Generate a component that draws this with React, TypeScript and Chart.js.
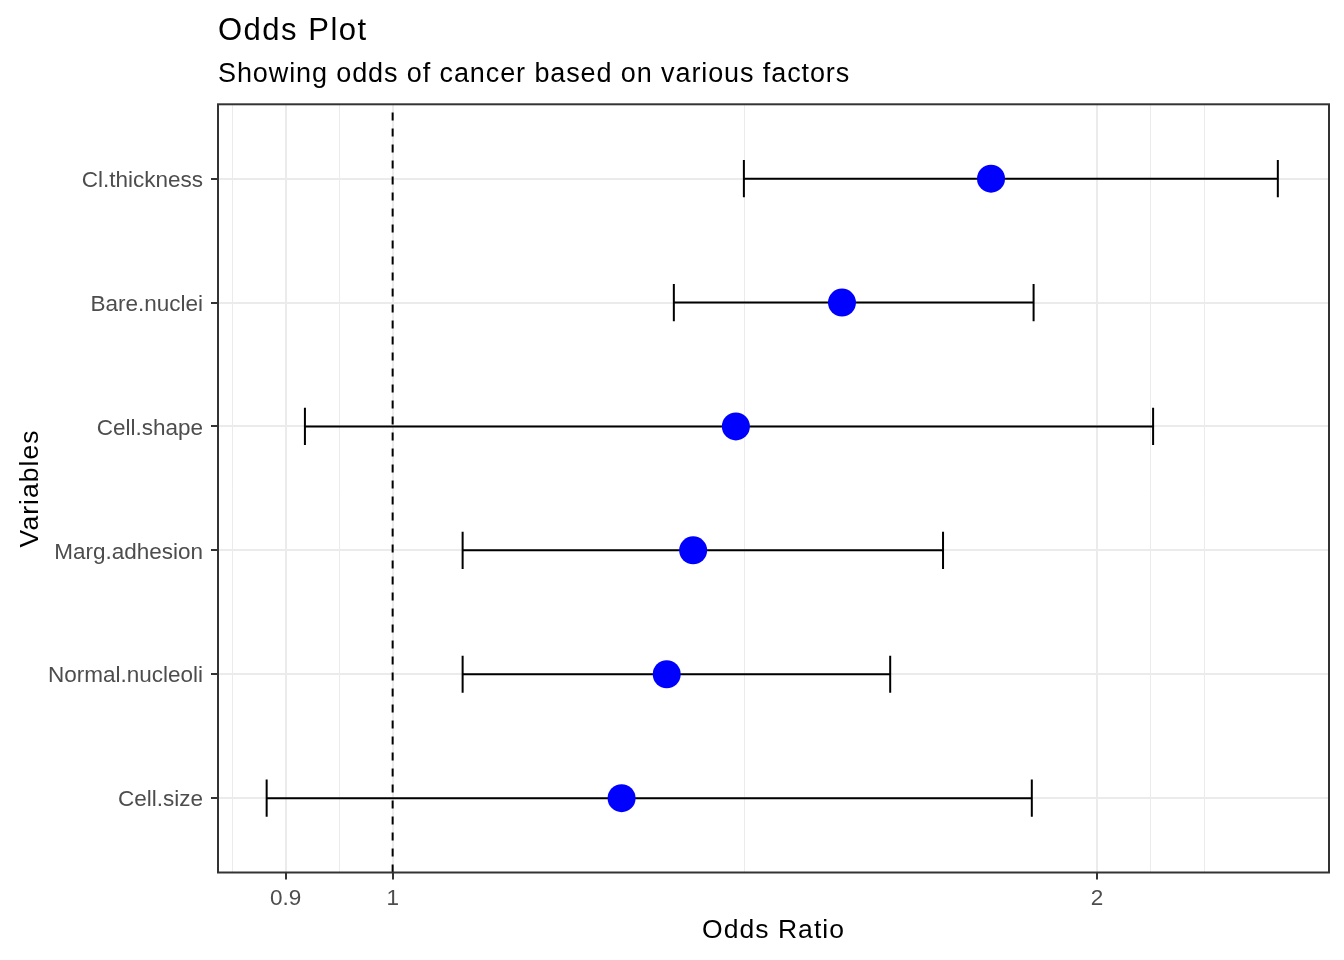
import React, { useEffect, useRef } from "react";
import { Chart, registerables } from "chart.js";

Chart.register(...registerables);

// ---- data (bottom to top, as ggplot draws the discrete axis) ----
const categories = [
  "Cell.size",
  "Normal.nucleoli",
  "Marg.adhesion",
  "Cell.shape",
  "Bare.nuclei",
  "Cl.thickness",
];
const oddsRatio = [1.2527, 1.3096, 1.3441, 1.4018, 1.5561, 1.8019];
const lowerCI = [0.8834, 1.0713, 1.0713, 0.9173, 1.3188, 1.4129];
const upperCI = [1.8757, 1.6317, 1.7188, 2.1135, 1.879, 2.3895];

const majorTicks = [0.9, 1, 2];
const minorTicks = [0.8538, 0.9487, 1.4142, 2.108, 2.2222];
const xLimits = [0.8421, 2.5129];
const refLine = 1;

const titleText = "Odds Plot";
const subtitleText = "Showing odds of cancer based on various factors";
const xTitleText = "Odds Ratio";
const yTitleText = "Variables";

// ---- style ----
const FONT = "'Liberation Sans', Arial, sans-serif";
const GRID = "#EBEBEB";
const DARK = "#333333";
const TICK_TEXT = "#4D4D4D";
const CAP_HALF = 0.15;
const Y_EXPAND = 0.6;

const isMajor = (v: number) => majorTicks.includes(v);

const errorBarPlugin = {
  id: "errorBars",
  beforeDatasetDraw(chart: any, args: any) {
    if (args.index !== 0) return;
    const { ctx, scales } = chart;
    const x = scales.x;
    const y = scales.y;
    ctx.save();
    ctx.strokeStyle = "#000000";
    ctx.lineWidth = 2;
    ctx.lineCap = "butt";
    categories.forEach((_, i) => {
      const py = y.getPixelForValue(i);
      const h = Math.abs(y.getPixelForValue(i + CAP_HALF) - py);
      const x1 = x.getPixelForValue(lowerCI[i]);
      const x2 = x.getPixelForValue(upperCI[i]);
      ctx.beginPath();
      ctx.moveTo(x1, py);
      ctx.lineTo(x2, py);
      ctx.moveTo(x1, py - h);
      ctx.lineTo(x1, py + h);
      ctx.moveTo(x2, py - h);
      ctx.lineTo(x2, py + h);
      ctx.stroke();
    });
    ctx.restore();
  },
};

const borderPlugin = {
  id: "panelBorder",
  afterDatasetsDraw(chart: any) {
    const { ctx, chartArea } = chart;
    ctx.save();
    ctx.strokeStyle = DARK;
    ctx.lineWidth = 2;
    ctx.strokeRect(
      chartArea.left,
      chartArea.top,
      chartArea.right - chartArea.left,
      chartArea.bottom - chartArea.top
    );
    ctx.restore();
  },
};

const textPlugin = {
  id: "texts",
  afterDraw(chart: any) {
    const { ctx, chartArea } = chart;
    const draw = (
      text: string,
      x: number,
      y: number,
      size: number,
      ls: number,
      align: CanvasTextAlign,
      rot = 0
    ) => {
      ctx.save();
      ctx.translate(x, y);
      if (rot) ctx.rotate(rot);
      ctx.font = `${size}px ${FONT}`;
      try {
        (ctx as any).letterSpacing = `${ls}px`;
      } catch (e) {}
      ctx.fillStyle = "#000000";
      ctx.textAlign = align;
      ctx.textBaseline = "alphabetic";
      ctx.fillText(text, 0, 0);
      ctx.restore();
    };
    const cx = (chartArea.left + chartArea.right) / 2;
    const cy = (chartArea.top + chartArea.bottom) / 2;
    draw(titleText, chartArea.left, 40, 31, 1.5, "left");
    draw(subtitleText, chartArea.left, 82, 27, 0.9, "left");
    draw(xTitleText, cx, 938, 26.5, 1.05, "center");
    draw(yTitleText, 38, cy, 26.5, 1.05, "center", -Math.PI / 2);
  },
};

export default function App() {
  const ref = useRef<HTMLCanvasElement | null>(null);

  useEffect(() => {
    document.body.style.margin = "0";
    const canvas = ref.current;
    if (!canvas) return;

    const points = categories.map((_, i) => ({ x: oddsRatio[i], y: i }));
    const yMin = -Y_EXPAND;
    const yMax = categories.length - 1 + Y_EXPAND;

    const chart = new Chart(canvas, {
      type: "scatter",
      data: {
        datasets: [
          {
            type: "scatter",
            data: points,
            pointRadius: 14,
            pointHoverRadius: 14,
            backgroundColor: "#0000FF",
            borderWidth: 0,
          } as any,
          {
            type: "line",
            data: [
              { x: refLine, y: yMin },
              { x: refLine, y: yMax },
            ],
            borderColor: "#000000",
            borderWidth: 2,
            borderDash: [8, 8],
            pointRadius: 0,
            showLine: true,
            fill: false,
          } as any,
        ],
      },
      options: {
        responsive: false,
        animation: false,
        layout: { padding: { top: 104.3, right: 15, bottom: 0, left: 0 } },
        plugins: {
          legend: { display: false },
          tooltip: { enabled: false },
          title: { display: false },
        },
        scales: {
          x: {
            type: "logarithmic",
            min: xLimits[0],
            max: xLimits[1],
            afterBuildTicks: (s: any) => {
              s.ticks = [...minorTicks, ...majorTicks]
                .sort((a, b) => a - b)
                .map((v) => ({ value: v }));
            },
            afterFit: (s: any) => {
              s.height = 87.5;
            },
            ticks: {
              autoSkip: false,
              maxRotation: 0,
              minRotation: 0,
              padding: 6,
              color: TICK_TEXT,
              font: { family: FONT, size: 22.5 },
              callback: (v: any) => (isMajor(Number(v)) ? String(v) : ""),
            },
            grid: {
              color: GRID,
              lineWidth: (c: any) => (c.tick && isMajor(c.tick.value) ? 2 : 1),
              tickLength: 7,
              tickWidth: 2,
              tickColor: (c: any) =>
                c.tick && isMajor(c.tick.value) ? DARK : "rgba(0,0,0,0)",
            },
            border: { display: false },
          },
          y: {
            type: "linear",
            min: yMin,
            max: yMax,
            afterBuildTicks: (s: any) => {
              s.ticks = categories.map((_, i) => ({ value: i }));
            },
            afterFit: (s: any) => {
              s.width = 218;
            },
            ticks: {
              autoSkip: false,
              padding: 8,
              labelOffset: 2,
              color: TICK_TEXT,
              font: { family: FONT, size: 22.5 },
              callback: (v: any) => categories[Number(v)] ?? "",
            },
            grid: {
              color: GRID,
              lineWidth: 2,
              tickLength: 7,
              tickWidth: 2,
              tickColor: DARK,
            },
            border: { display: false },
          },
        },
      } as any,
      plugins: [errorBarPlugin, borderPlugin, textPlugin],
    });

    return () => {
      chart.destroy();
    };
  }, []);

  return (
    <div style={{ width: 1344, height: 960, background: "#ffffff" }}>
      <canvas
        ref={ref}
        width={1344}
        height={960}
        style={{ display: "block", width: 1344, height: 960 }}
      />
    </div>
  );
}
